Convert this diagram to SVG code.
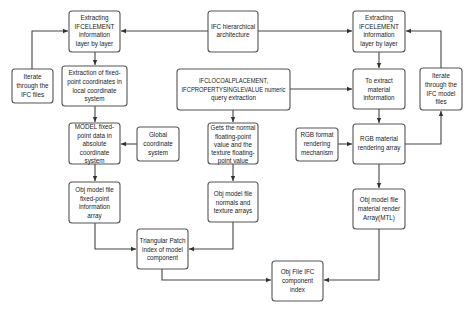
<svg xmlns="http://www.w3.org/2000/svg" width="474" height="313" viewBox="0 0 474 313">
<defs>
<marker id="ah" markerWidth="6" markerHeight="6" refX="5" refY="3" orient="auto" markerUnits="userSpaceOnUse">
<path d="M0,0.8 L5,3 L0,5.2 Z" fill="#333"/>
</marker>
<style>
.box{fill:#fff;stroke:#555;stroke-width:1.1}
.t{font-family:"Liberation Sans",Arial,sans-serif;font-size:6.3px;fill:#222;text-anchor:middle}
.c{fill:none;stroke:#444;stroke-width:1.1;marker-end:url(#ah)}
</style>
</defs>
<rect width="474" height="313" fill="#fff"/>
<g id="connectors">
<path class="c" d="M32,69 V31 H68"/>
<path class="c" d="M208,31 H121"/>
<path class="c" d="M258,31 H352"/>
<path class="c" d="M441,68 V31 H406"/>
<path class="c" d="M95,52 V65"/>
<path class="c" d="M379,52 V68"/>
<path class="c" d="M95,106 V122"/>
<path class="c" d="M137,144 H121"/>
<path class="c" d="M95,164 V181"/>
<path class="c" d="M233,110 V122"/>
<path class="c" d="M290,89 H352"/>
<path class="c" d="M379,109 V123"/>
<path class="c" d="M338,144 H352"/>
<path class="c" d="M405,144 H441 V111"/>
<path class="c" d="M379,164 V188"/>
<path class="c" d="M233,164 V181"/>
<path class="c" d="M95,223 V249 H136"/>
<path class="c" d="M233,222 V249 H189"/>
<path class="c" d="M162,269 V280 H271"/>
<path class="c" d="M379,229 V280 H324"/>
</g>
<g id="extract-left">
<rect class="box" x="69" y="11" width="51" height="41" rx="3"/>
<text class="t" x="94.5" y="20">Extracting</text>
<text class="t" x="94.5" y="28.5">IFCELEMENT</text>
<text class="t" x="94.5" y="37">information</text>
<text class="t" x="94.5" y="45.5">layer by layer</text>
</g>
<g id="ifc-hier">
<rect class="box" x="208" y="11" width="50" height="41" rx="3"/>
<text class="t" x="233" y="28.5">IFC hierarchical</text>
<text class="t" x="233" y="37">architecture</text>
</g>
<g id="extract-right">
<rect class="box" x="353" y="11" width="52" height="41" rx="3"/>
<text class="t" x="379" y="20">Extracting</text>
<text class="t" x="379" y="28.5">IFCELEMENT</text>
<text class="t" x="379" y="37">information</text>
<text class="t" x="379" y="45.5">layer by layer</text>
</g>
<g id="iterate-left">
<rect class="box" x="12" y="69" width="41" height="34" rx="3"/>
<text class="t" x="32.5" y="79">Iterate</text>
<text class="t" x="32.5" y="88">through the</text>
<text class="t" x="32.5" y="96.5">IFC files</text>
</g>
<g id="extraction-fixed">
<rect class="box" x="62" y="66" width="65" height="40" rx="3"/>
<text class="t" x="94.5" y="75">Extraction of fixed-</text>
<text class="t" x="94.5" y="84">point coordinates in</text>
<text class="t" x="94.5" y="92.5">local coordinate</text>
<text class="t" x="94.5" y="101">system</text>
</g>
<g id="ifclocoal">
<rect class="box" x="177" y="69" width="113" height="41" rx="3"/>
<text class="t" x="233.5" y="83" textLength="69" lengthAdjust="spacingAndGlyphs">IFCLOCOALPLACEMENT,</text>
<text class="t" x="233.5" y="91.5" textLength="104" lengthAdjust="spacingAndGlyphs">IFCPROPERTYSINGLEVALUE numeric</text>
<text class="t" x="233.5" y="100">query extraction</text>
</g>
<g id="to-extract">
<rect class="box" x="353" y="69" width="52" height="40" rx="3"/>
<text class="t" x="379" y="83">To extract</text>
<text class="t" x="379" y="91.5">material</text>
<text class="t" x="379" y="100">information</text>
</g>
<g id="iterate-right">
<rect class="box" x="420" y="68" width="42" height="42" rx="3"/>
<text class="t" x="441" y="78">Iterate</text>
<text class="t" x="441" y="87">through the</text>
<text class="t" x="441" y="95.5">IFC model</text>
<text class="t" x="441" y="104">files</text>
</g>
<g id="model-fixed">
<rect class="box" x="69" y="123" width="51" height="41" rx="3"/>
<text class="t" x="94.5" y="128.5">MODEL fixed-</text>
<text class="t" x="94.5" y="137.5">point data in</text>
<text class="t" x="94.5" y="146">absolute</text>
<text class="t" x="94.5" y="154.5">coordinate</text>
<text class="t" x="94.5" y="163">system</text>
</g>
<g id="global">
<rect class="box" x="137" y="127" width="42" height="34" rx="3"/>
<text class="t" x="158" y="137">Global</text>
<text class="t" x="158" y="146">coordinate</text>
<text class="t" x="158" y="154.5">system</text>
</g>
<g id="gets-normal">
<rect class="box" x="208" y="123" width="50" height="41" rx="3"/>
<text class="t" x="233" y="130">Gets the normal</text>
<text class="t" x="233" y="138.5">floating-point</text>
<text class="t" x="233" y="146.5">value and the</text>
<text class="t" x="233" y="155">texture floating-</text>
<text class="t" x="233" y="163">point value</text>
</g>
<g id="rgb-format">
<rect class="box" x="296" y="128" width="42" height="33" rx="3"/>
<text class="t" x="317" y="137">RGB format</text>
<text class="t" x="317" y="146">rendering</text>
<text class="t" x="317" y="154.5">mechanism</text>
</g>
<g id="rgb-material">
<rect class="box" x="353" y="124" width="52" height="40" rx="3"/>
<text class="t" x="379" y="141">RGB material</text>
<text class="t" x="379" y="150">rendering array</text>
</g>
<g id="obj-fixed">
<rect class="box" x="69" y="182" width="51" height="41" rx="3"/>
<text class="t" x="94.5" y="191.5">Obj model file</text>
<text class="t" x="94.5" y="200.5">fixed-point</text>
<text class="t" x="94.5" y="209">information</text>
<text class="t" x="94.5" y="217.5">array</text>
</g>
<g id="obj-normals">
<rect class="box" x="208" y="182" width="50" height="40" rx="3"/>
<text class="t" x="233" y="196">Obj model file</text>
<text class="t" x="233" y="204.5">normals and</text>
<text class="t" x="233" y="213">texture arrays</text>
</g>
<g id="obj-material">
<rect class="box" x="353" y="189" width="52" height="40" rx="3"/>
<text class="t" x="379" y="202">Obj model file</text>
<text class="t" x="379" y="211">material render</text>
<text class="t" x="379" y="220">Array(MTL)</text>
</g>
<g id="triangular">
<rect class="box" x="137" y="229" width="51" height="40" rx="3"/>
<text class="t" x="162.5" y="243">Triangular Patch</text>
<text class="t" x="162.5" y="251.5">index of model</text>
<text class="t" x="162.5" y="260">component</text>
</g>
<g id="obj-ifc-index">
<rect class="box" x="272" y="261" width="51" height="40" rx="3"/>
<text class="t" x="297.5" y="274">Obj File IFC</text>
<text class="t" x="297.5" y="283">component</text>
<text class="t" x="297.5" y="291.5">index</text>
</g>
</svg>
